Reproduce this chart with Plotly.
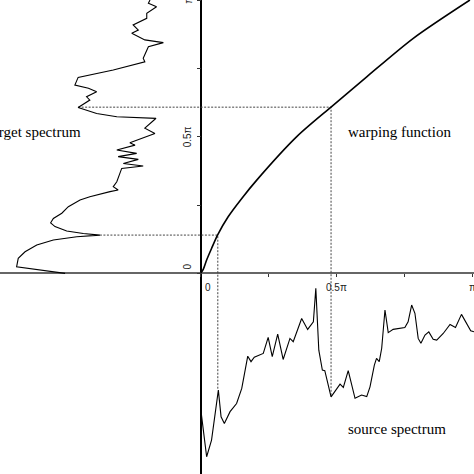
import plotly.graph_objects as go

# frequencies in units of pi, levels in the same units (drawn away from the axes)
target_freq = [0.000, 0.024, 0.055, 0.079, 0.104, 0.122, 0.134, 0.140, 0.146, 0.155,
               0.171, 0.185, 0.201, 0.220, 0.244, 0.268, 0.280, 0.290, 0.299, 0.305,
               0.317, 0.335, 0.366, 0.384, 0.393, 0.402, 0.417, 0.427, 0.439, 0.451,
               0.469, 0.478, 0.512, 0.531, 0.561, 0.567, 0.573, 0.585, 0.607, 0.622,
               0.634, 0.646, 0.664, 0.677, 0.689, 0.717, 0.744, 0.774, 0.787, 0.829,
               0.844, 0.854, 0.866, 0.878, 0.890, 0.909, 0.933, 0.951, 0.975, 0.988, 1.000]
target_level = [-0.498, -0.676, -0.670, -0.645, -0.602, -0.541, -0.455, -0.370, -0.431, -0.492,
                -0.535, -0.551, -0.541, -0.510, -0.486, -0.443, -0.407, -0.370, -0.333, -0.303,
                -0.321, -0.308, -0.296, -0.290, -0.211, -0.284, -0.229, -0.303, -0.235, -0.308,
                -0.241, -0.260, -0.168, -0.205, -0.171, -0.164, -0.308, -0.382, -0.450, -0.425,
                -0.407, -0.419, -0.382, -0.412, -0.462, -0.450, -0.321, -0.205, -0.211, -0.192,
                -0.137, -0.205, -0.229, -0.253, -0.229, -0.248, -0.198, -0.198, -0.162, -0.192, -0.186]

source_freq = [0.000, 0.022, 0.040, 0.065, 0.075, 0.087, 0.108, 0.132, 0.151, 0.173,
               0.185, 0.197, 0.230, 0.248, 0.263, 0.283, 0.303, 0.328, 0.340, 0.371,
               0.393, 0.414, 0.423, 0.434, 0.447, 0.456, 0.479, 0.493, 0.512, 0.524,
               0.542, 0.567, 0.591, 0.610, 0.622, 0.638, 0.646, 0.656, 0.665, 0.677,
               0.689, 0.707, 0.750, 0.762, 0.775, 0.787, 0.799, 0.809, 0.824, 0.838,
               0.854, 0.867, 0.891, 0.916, 0.936, 0.958, 0.977, 0.992, 1.004]
source_level = [-0.494, -0.671, -0.610, -0.427, -0.525, -0.549, -0.506, -0.476, -0.421, -0.303,
                -0.323, -0.307, -0.293, -0.234, -0.305, -0.222, -0.315, -0.238, -0.250, -0.165,
                -0.205, -0.177, -0.055, -0.281, -0.354, -0.356, -0.452, -0.433, -0.405, -0.417,
                -0.356, -0.457, -0.445, -0.451, -0.415, -0.336, -0.311, -0.323, -0.274, -0.134,
                -0.217, -0.205, -0.198, -0.177, -0.116, -0.146, -0.238, -0.256, -0.226, -0.214,
                -0.241, -0.244, -0.220, -0.187, -0.198, -0.150, -0.183, -0.210, -0.214]

warp_in = [0.0, 0.0095, 0.022, 0.040, 0.062, 0.101, 0.151, 0.206, 0.353,
           0.481, 0.610, 0.781, 0.989]
warp_out = [0.0, 0.0146, 0.049, 0.091, 0.140, 0.207, 0.274, 0.341, 0.500,
            0.610, 0.719, 0.860, 1.0]

# two mapped frequencies: source -> target
map_src = [0.063, 0.479]
map_tgt = [0.140, 0.608]
map_tgt_level = [-0.370, -0.450]
map_src_level = [-0.427, -0.452]

tick_vals = [0, 0.25, 0.5, 0.75, 1]
label_vals = [0, 0.5, 1]
label_text = ["0", "0.5\u03c0", "\u03c0"]

fig = go.Figure()

for s, t, tl, sl in zip(map_src, map_tgt, map_tgt_level, map_src_level):
    fig.add_trace(go.Scatter(
        x=[tl, s, s], y=[t, t, sl], mode="lines",
        line=dict(color="#444444", width=1, dash="2px,1.5px"),
    ))

fig.add_trace(go.Scatter(x=target_level, y=target_freq, mode="lines",
                         line=dict(color="black", width=1.1)))
fig.add_trace(go.Scatter(x=source_freq, y=source_level, mode="lines",
                         line=dict(color="black", width=1.1)))
fig.add_trace(go.Scatter(x=warp_in, y=warp_out, mode="lines",
                         line=dict(color="black", width=1.6, shape="spline", smoothing=0.8)))

tick_font = dict(family="Liberation Sans, Arial", size=10, color="#222222")
for v, txt in zip(label_vals, label_text):
    fig.add_annotation(x=v + (0.026 if v == 0 else 0), y=0, text=txt, showarrow=False,
                       yshift=-14, font=tick_font)
    fig.add_annotation(x=0, y=v + (0.024 if v == 0 else 0), text=txt, showarrow=False,
                       xshift=-13, textangle=-90, font=tick_font)

serif = dict(family="Liberation Serif, Times New Roman, serif", size=15, color="black")
fig.add_annotation(x=0.533, y=0.518, text="warping function", showarrow=False,
                   xanchor="left", font=serif)
fig.add_annotation(x=0.533, y=-0.571, text="source spectrum", showarrow=False,
                   xanchor="left", font=serif)
fig.add_annotation(x=-0.431, y=0.518, text="target spectrum", showarrow=False,
                   xanchor="right", font=serif)

x_range = [-0.737, 1.004]
y_range = [-0.734, 1.0]
fig.update_layout(
    width=474, height=474, showlegend=False,
    margin=dict(l=0, r=0, t=0, b=0),
    paper_bgcolor="white", plot_bgcolor="white",
    xaxis=dict(range=x_range, showgrid=False, zeroline=True, zerolinecolor="black",
               zerolinewidth=1.5, tickvals=tick_vals, showticklabels=False,
               ticks="outside", ticklen=3, tickcolor="#333333",
               anchor="free", position=-y_range[0] / (y_range[1] - y_range[0]),
               showline=False),
    yaxis=dict(range=y_range, showgrid=False, zeroline=True, zerolinecolor="#666666",
               zerolinewidth=2, tickvals=tick_vals, showticklabels=False,
               ticks="outside", ticklen=4, tickcolor="#333333",
               anchor="free", position=-x_range[0] / (x_range[1] - x_range[0]),
               showline=False),
)

# the page body has a default margin; drop it so the figure fills the window
fig.write_html("out.html", config={"displayModeBar": False},
               post_script="document.body.style.margin = '0';")
